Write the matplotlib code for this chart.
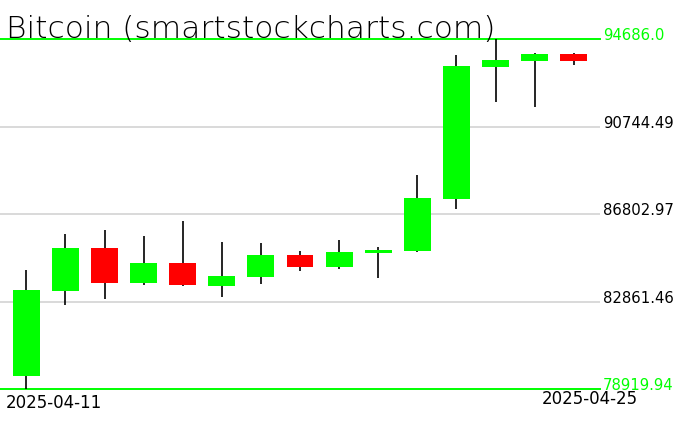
import numpy as np
import matplotlib.pyplot as plt

dates = ["2025-04-11", "2025-04-12", "2025-04-13", "2025-04-14", "2025-04-15",
         "2025-04-16", "2025-04-17", "2025-04-18", "2025-04-19", "2025-04-20",
         "2025-04-21", "2025-04-22", "2025-04-23", "2025-04-24", "2025-04-25"]
opens = [79533, 83361, 85285, 83722, 84609, 83587, 83992, 84970, 84443, 85073,
         85150, 87506, 93452, 93709, 94024]
highs = [84294, 85916, 86096, 85825, 86488, 85555, 85510, 85150, 85645, 85330,
         88587, 93979, 94686, 94082, 94082]
lows = [78920, 82731, 83001, 83632, 83573, 83091, 83677, 84262, 84352, 83934,
        85105, 87055, 91875, 91650, 93542]
closes = [83393, 85285, 83722, 84609, 83632, 84024, 84970, 84443, 85105, 85195,
          87537, 93483, 93754, 94024, 93709]

y_top = 94686.0
y_bottom = 78919.94
grid_levels = [90744.49, 86802.97, 82861.46]

W, H = 676, 431
fig = plt.figure(figsize=(W / 100, H / 100), dpi=100)
ax = fig.add_axes([0, (H - 390.3) / H, 600 / W, 350 / H])
ax.set_ylim(y_bottom, y_top)
ax.set_xlim(-26.3 / 39.1, (600 - 26.3) / 39.1)
ax.axis("off")

x = np.arange(len(dates))
o = np.array(opens)
c = np.array(closes)
colors = np.where(c >= o, "#00ff00", "#ff0000")

for lvl in grid_levels:
    ax.axhline(lvl, color="#d3d3d3", lw=1.2, zorder=0)
for lvl in (y_top, y_bottom):
    ax.axhline(lvl, color="#00ff00", lw=1.4, zorder=0, clip_on=False)

ax.vlines(x, lows, highs, color="black", lw=1.2, zorder=1, clip_on=False)
ax.bar(x, np.maximum(np.abs(c - o), 60), bottom=np.minimum(o, c), width=0.69,
       color=colors, zorder=2, clip_on=False)

# price labels on the right
trans = ax.get_yaxis_transform()
lx = 1.0 + 3 / 600
for lvl in grid_levels:
    ax.text(lx, lvl, f"{lvl:.2f}", transform=trans, fontsize=10.7,
            va="baseline", ha="left", color="black", clip_on=False)
ax.text(lx, y_top, f"{y_top:.1f}", transform=trans, fontsize=10.7,
        va="baseline", ha="left", color="#00ff00", clip_on=False)
ax.text(lx, y_bottom, f"{y_bottom:.2f}", transform=trans, fontsize=10.7,
        va="baseline", ha="left", color="#00ff00", clip_on=False)

ax.annotate(dates[0], xy=(x[0], y_bottom), xytext=(-21, -4), textcoords="offset pixels",
            fontsize=12, ha="left", va="top", annotation_clip=False)
ax.annotate(dates[-1], xy=(x[-1], y_bottom), xytext=(-32, 0), textcoords="offset pixels",
            fontsize=12, ha="left", va="top", annotation_clip=False)

fig.text(6 / W, (H - 38.5) / H, "Bitcoin (smartstockcharts.com)", fontsize=22.5,
         fontweight="light", ha="left", va="baseline")

fig.savefig("out.png", dpi=100)
